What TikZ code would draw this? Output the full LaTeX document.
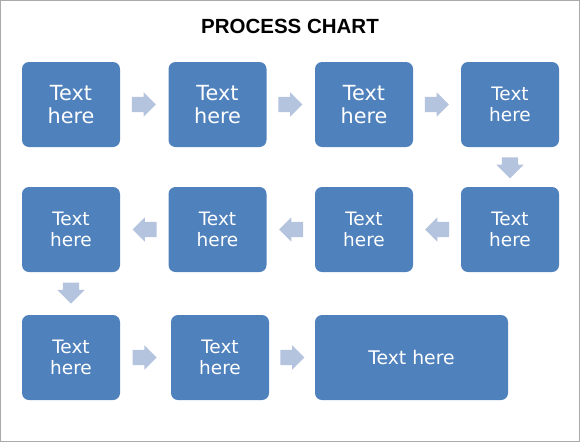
\documentclass[tikz,border=0pt]{standalone}
\usepackage{fontspec}
\setmainfont{DejaVu Sans}
\newfontfamily\titlefont{Liberation Sans}
\usetikzlibrary{shapes.arrows,calc}
\definecolor{boxblue}{RGB}{79,129,189}
\definecolor{arrowblue}{RGB}{180,195,222}
\definecolor{framegray}{RGB}{170,170,170}
\begin{document}
\begin{tikzpicture}[x=1pt,y=-1pt,
  box/.style={fill=boxblue,rounded corners=7pt,minimum width=98pt,minimum height=85pt,inner sep=0pt,text=white,align=center,font=\fontsize{18.5}{20.5}\selectfont},
  bigbox/.style={box,font=\fontsize{20.8}{23}\selectfont},
  harrow/.style={single arrow,anchor=tail,fill=arrowblue,inner sep=0pt,text height=15pt,text depth=0pt,minimum height=24pt,single arrow head extend=4.5pt},
  varrow/.style={harrow,rotate=-90,text height=16pt,minimum height=21pt,single arrow head extend=5.5pt}]
\useasboundingbox (0,0) rectangle (580,442);
\draw [framegray] (0.5,0.5) rectangle (579,441);
\node [font=\titlefont\bfseries\fontsize{20.5}{24}\selectfont] (title) at (290,26) {PROCESS CHART};

\node [bigbox] (a1) at (71,104.5) {Text\\here};
\node [bigbox] (a2) at (217.5,104.5) {Text\\here};
\node [bigbox] (a3) at (364,104.5) {Text\\here};
\node [box] (a4) at (510,104.5) {Text\\here};

\node [box] (b1) at (71,229.5) {Text\\here};
\node [box] (b2) at (217.5,229.5) {Text\\here};
\node [box] (b3) at (364,229.5) {Text\\here};
\node [box] (b4) at (510,229.5) {Text\\here};

\node [box] (c1) at (71,357.5) {Text\\here};
\node [box] (c2) at (220,357.5) {Text\\here};
\node [box,minimum width=193pt,font=\fontsize{18.8}{22}\selectfont] (c3) at (411.5,357.5) {Text here};

\node [harrow] at ($(a1.east)!0.24!(a2.west)$) {};
\node [harrow] at ($(a2.east)!0.24!(a3.west)$) {};
\node [harrow] at ($(a3.east)!0.24!(a4.west)$) {};
\node [varrow] at ($(a4.south)!0.25!(b4.north)$) {};
\node [harrow,rotate=180] at ($(b4.west)!0.24!(b3.east)$) {};
\node [harrow,rotate=180] at ($(b3.west)!0.24!(b2.east)$) {};
\node [harrow,rotate=180] at ($(b2.west)!0.24!(b1.east)$) {};
\node [varrow] at ($(b1.south)!0.24!(c1.north)$) {};
\node [harrow] at ($(c1.east)!0.24!(c2.west)$) {};
\node [harrow] at ($(c2.east)!0.24!(c3.west)$) {};

\end{tikzpicture}
\end{document}
